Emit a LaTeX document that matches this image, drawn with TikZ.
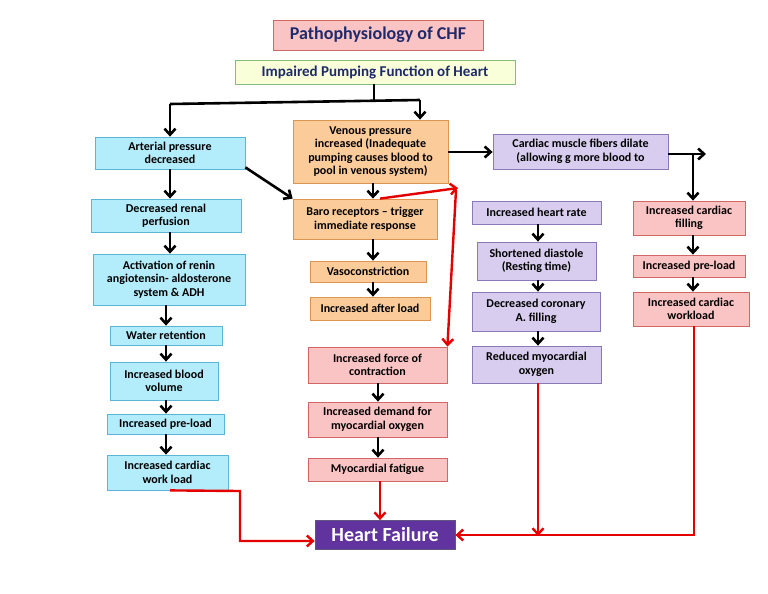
\documentclass[tikz,border=0pt]{standalone}
\usepackage{fontspec}
\setmainfont{Carlito}
\usetikzlibrary{arrows.meta}
\definecolor{cy}{HTML}{B3EDFB}\definecolor{cyd}{HTML}{5AB6D6}
\definecolor{orf}{HTML}{FCCB9A}\definecolor{ord}{HTML}{E0954F}
\definecolor{puf}{HTML}{D8CDEE}\definecolor{pud}{HTML}{8A78B8}
\definecolor{rdf}{HTML}{FBC4C4}\definecolor{rdd}{HTML}{D06868}
\definecolor{navy}{HTML}{1F2A6B}
\tikzset{
 bx/.style={draw, line width=0.8pt, align=center, font=\bfseries\fontsize{12}{13.5}\selectfont, inner sep=1pt},
 cyb/.style={bx, fill=cy, draw=cyd},
 orb/.style={bx, fill=orf, draw=ord},
 pub/.style={bx, fill=puf, draw=pud},
 rdb/.style={bx, fill=rdf, draw=rdd},
 blk/.style={line width=2.6pt, -{Straight Barb[length=6pt,width=11pt]}},
 red/.style={line width=2.4pt, draw=red!90!black, -{Straight Barb[length=6pt,width=11pt]}},
}
\newcommand{\bxat}[7]{\node[#1, minimum width=#4pt-#2pt, minimum height=#5pt-#3pt] (#6) at ({(#2+#4)/2},{(#3+#5)/2}) {#7};}
\begin{document}
\begin{tikzpicture}[x=1pt,y=-1pt]
\useasboundingbox (0,0) rectangle (768,594);
\fill[white] (0,0) rectangle (768,594);
\node[draw=rdd, fill=rdf, line width=0.8pt, minimum width=210pt, minimum height=30pt, font=\bfseries\fontsize{18}{20}\selectfont, text=navy] (t) at (378,35) {Pathophysiology of CHF};
\node[draw=green!50!black!50, fill=green!15!yellow!15, line width=0.8pt, minimum width=280pt, minimum height=24pt, font=\bfseries\fontsize{15}{17}\selectfont, text=navy] (imp) at (375,72) {Impaired Pumping Function of Heart};
\bxat{cyb}{95}{137}{245}{169}{art}{Arterial pressure\\decreased}
\bxat{orb}{293}{120}{448}{183}{ven}{Venous pressure\\increased (Inadequate\\pumping causes blood to\\pool in venous system)}
\bxat{pub}{493}{134}{668}{169}{cmf}{Cardiac muscle fibers dilate\\(allowing g more blood to}
\bxat{cyb}{91}{199}{241}{232}{ren}{Decreased renal\\perfusion}
\bxat{orb}{293}{199}{437}{239}{baro}{Baro receptors – trigger\\immediate response}
\bxat{pub}{472}{201}{601}{224}{hr}{Increased heart rate}
\bxat{rdb}{633}{201}{745}{235}{fil}{Increased cardiac\\filling}
\bxat{cyb}{93}{254}{245}{305}{act}{Activation of renin\\angiotensin- aldosterone\\system \& ADH}
\bxat{orb}{310}{261}{426}{282}{vaso}{Vasoconstriction}
\bxat{orb}{310}{297}{430}{320}{after}{Increased after load}
\bxat{pub}{477}{242}{596}{280}{dia}{Shortened diastole\\(Resting time)}
\bxat{rdb}{633}{255}{745}{277}{prer}{Increased pre-load}
\bxat{pub}{472}{292}{600}{331}{cor}{Decreased coronary\\A. filling}
\bxat{rdb}{633}{292}{749}{326}{wlr}{Increased cardiac\\workload}
\bxat{cyb}{110}{326}{222}{345}{wat}{Water retention}
\bxat{rdb}{308}{347}{447}{383}{force}{Increased force of\\contraction}
\bxat{pub}{472}{346}{601}{383}{red}{Reduced myocardial\\oxygen}
\bxat{cyb}{110}{362}{218}{400}{vol}{Increased blood\\volume}
\bxat{rdb}{308}{402}{447}{437}{dem}{Increased demand for\\myocardial oxygen}
\bxat{cyb}{107}{414}{224}{434}{prel}{Increased pre-load}
\bxat{cyb}{107}{455}{228}{490}{wll}{Increased cardiac\\work load}
\bxat{rdb}{308}{458}{447}{481}{fat}{Myocardial fatigue}
\node[draw=pud!70!black, fill=violet!60!blue!60!gray, line width=0.8pt, minimum width=140pt, minimum height=29pt, font=\bfseries\fontsize{20}{22}\selectfont, text=white] (hf) at (385,535) {Heart Failure};
% black connectors
\draw[line width=2.6pt] (imp.south -| 374,0) -- (374,101);
\draw[line width=2.6pt] (170,104) -- (420,100);
\draw[blk] (170,104) -- (art.north -| 170,0);
\draw[blk] (420,100) -- (ven.north -| 420,0);
\draw[blk] (art.south east) ++(0,-2) -- (baro.north west);
\draw[blk] (ven.east |- 0,152) -- (cmf.west |- 0,152);
\draw[blk] (cmf.east |- 0,154) -- (706,154);
\draw[blk] (693,154) -- (fil.north -| 693,0);
\draw[blk] (art.south -| 170,0) -- (ren.north -| 170,0);
\draw[blk] (ren.south -| 170,0) -- (act.north -| 170,0);
\draw[blk] (act.south -| 166,0) -- (wat.north -| 166,0);
\draw[blk] (wat.south -| 166,0) -- (vol.north -| 166,0);
\draw[blk] (vol.south -| 166,0) -- (prel.north -| 166,0);
\draw[blk] (prel.south -| 166,0) -- (wll.north -| 166,0);
\draw[blk] (ven.south -| 373,0) -- (baro.north -| 373,0);
\draw[blk] (baro.south -| 373,0) -- (vaso.north -| 373,0);
\draw[blk] (vaso.south -| 373,0) -- (after.north -| 373,0);
\draw[blk] (force.south -| 378,0) -- (dem.north -| 378,0);
\draw[blk] (dem.south -| 378,0) -- (fat.north -| 378,0);
\draw[blk] (hr.south -| 538,0) -- (dia.north -| 538,0);
\draw[blk] (dia.south -| 538,0) -- (cor.north -| 538,0);
\draw[blk] (cor.south -| 538,0) -- (red.north -| 538,0);
\draw[blk] (fil.south -| 693,0) -- (prer.north -| 693,0);
\draw[blk] (prer.south -| 693,0) -- (wlr.north -| 693,0);
% red connectors
\coordinate (rt) at (458,188);
\draw[red] (baro.north -| 380,0) -- (rt);
\draw[red] (456,190) -- (force.north east);
\draw[red] (wll.south -| 170,0) -- (240,491) -- (240,541) -- (hf.west |- 0,541);
\draw[red] (fat.south -| 380,0) -- (hf.north -| 380,0);
\draw[red] (red.south -| 538,0) -- (538,536);
\draw[red] (wlr.south -| 694,0) -- (694,535) -- (hf.east |- 0,535);
\end{tikzpicture}
\end{document}
